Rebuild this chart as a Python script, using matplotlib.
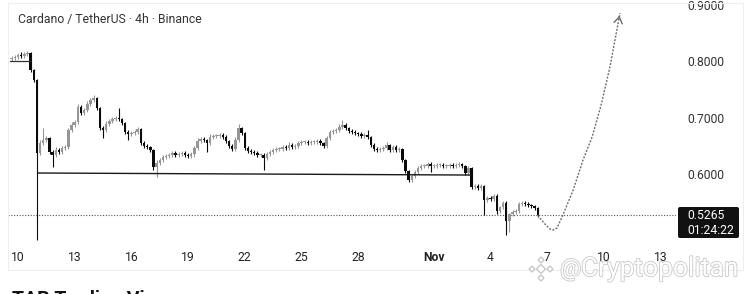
import matplotlib
matplotlib.use('Agg')
import matplotlib.pyplot as plt
import matplotlib.dates as mdates
import matplotlib.patheffects as pe
from matplotlib.patches import FancyBboxPatch, Rectangle, Polygon
import numpy as np
import pandas as pd

plt.rcParams['font.family'] = ['Roboto', 'DejaVu Sans']

# ---------------- data ----------------
title = "Cardano / TetherUS · 4h · Binance"
first_candle = "2025-10-09 16:00"
open_first = 0.8043
closes = [
    0.8061, 0.8078, 0.8114, 0.8096, 0.8132, 0.8150, 0.7848, 0.7670, 0.6373, 0.6551,
    0.6604, 0.6640, 0.6391, 0.6337, 0.6426, 0.6391, 0.6462, 0.6480, 0.6782, 0.6871,
    0.6924, 0.7190, 0.7084, 0.7137, 0.7244, 0.7315, 0.7350, 0.7173, 0.6817, 0.6782,
    0.6888, 0.6942, 0.6977, 0.6995, 0.6977, 0.6906, 0.6746, 0.6711, 0.6729, 0.6746,
    0.6800, 0.6551, 0.6497, 0.6480, 0.6426, 0.6125, 0.6196, 0.6249, 0.6302, 0.6320,
    0.6337, 0.6373, 0.6337, 0.6355, 0.6373, 0.6337, 0.6320, 0.6355, 0.6462, 0.6586,
    0.6622, 0.6604, 0.6551, 0.6657, 0.6675, 0.6675, 0.6693, 0.6657, 0.6586, 0.6497,
    0.6444, 0.6604, 0.6817, 0.6729, 0.6462, 0.6409, 0.6391, 0.6373, 0.6337, 0.6337,
    0.6284, 0.6355, 0.6391, 0.6426, 0.6444, 0.6444, 0.6480, 0.6462, 0.6515, 0.6480,
    0.6497, 0.6551, 0.6569, 0.6569, 0.6551, 0.6569, 0.6569, 0.6586, 0.6551, 0.6497,
    0.6640, 0.6746, 0.6764, 0.6782, 0.6835, 0.6871, 0.6817, 0.6764, 0.6746, 0.6729,
    0.6711, 0.6675, 0.6693, 0.6657, 0.6515, 0.6444, 0.6426, 0.6444, 0.6462, 0.6515,
    0.6426, 0.6480, 0.6426, 0.6444, 0.6249, 0.6054, 0.5894, 0.5965, 0.6036, 0.6107,
    0.6142, 0.6142, 0.6178, 0.6142, 0.6142, 0.6160, 0.6160, 0.6142, 0.6142, 0.6160,
    0.6142, 0.6160, 0.6178, 0.6142, 0.6018, 0.6107, 0.5769, 0.5787, 0.5751, 0.5787,
    0.5539, 0.5574, 0.5556, 0.5610, 0.5343, 0.5414, 0.5485, 0.5166, 0.5290, 0.5326,
    0.5343, 0.5468, 0.5485, 0.5468, 0.5450, 0.5432, 0.5396, 0.5265,
]
wick_up_milli = [
    3, 4, 3, 5, 3, 4, 2, 2, 2, 6,
    21, 4, 2, 3, 5, 3, 4, 3, 4, 6,
    4, 5, 3, 4, 5, 4, 5, 2, 2, 4,
    5, 4, 3, 4, 18, 2, 2, 3, 4, 3,
    3, 2, 3, 4, 2, 2, 5, 4, 3, 3,
    4, 3, 3, 4, 3, 3, 4, 3, 4, 5,
    4, 3, 2, 5, 4, 3, 4, 3, 3, 2,
    3, 5, 7, 2, 2, 3, 4, 3, 3, 4,
    3, 4, 3, 3, 4, 3, 4, 3, 5, 4,
    3, 4, 3, 3, 4, 3, 3, 4, 3, 2,
    4, 3, 4, 3, 5, 9, 3, 2, 3, 3,
    2, 4, 3, 9, 2, 3, 4, 3, 3, 5,
    2, 4, 3, 4, 2, 2, 2, 3, 4, 3,
    3, 4, 3, 3, 4, 3, 3, 4, 3, 4,
    3, 4, 3, 2, 2, 4, 2, 3, 4, 3,
    2, 3, 4, 3, 4, 2, 3, 4, 2, 3,
    4, 3, 4, 3, 3, 2, 2, 2,
]
wick_dn_milli = [
    3, 3, 4, 3, 3, 3, 3, 3, 155, 4,
    4, 3, 3, 21, 4, 3, 4, 3, 3, 4,
    3, 3, 4, 3, 3, 3, 3, 3, 3, 14,
    3, 4, 3, 3, 3, 3, 4, 11, 3, 4,
    3, 4, 3, 4, 3, 5, 18, 4, 3, 4,
    3, 4, 3, 3, 4, 3, 3, 4, 5, 3,
    4, 3, 16, 3, 4, 3, 3, 4, 3, 3,
    4, 3, 3, 3, 3, 4, 3, 4, 3, 4,
    21, 3, 4, 3, 4, 3, 4, 3, 3, 4,
    3, 4, 3, 3, 3, 4, 3, 4, 3, 4,
    3, 3, 4, 3, 3, 3, 4, 3, 3, 4,
    3, 3, 3, 4, 3, 3, 4, 3, 3, 3,
    4, 3, 3, 3, 4, 3, 4, 3, 3, 3,
    3, 3, 3, 11, 3, 3, 4, 3, 3, 3,
    4, 3, 3, 3, 3, 4, 4, 3, 3, 4,
    27, 3, 4, 3, 5, 4, 3, 25, 20, 4,
    3, 3, 4, 3, 3, 3, 3, 3,
]
tick_dates = ["2025-10-10", "2025-10-13", "2025-10-16", "2025-10-19", "2025-10-22",
              "2025-10-25", "2025-10-28", "2025-11-01", "2025-11-04", "2025-11-07",
              "2025-11-10", "2025-11-13"]
tick_labels = ["10", "13", "16", "19", "22", "25", "28", "Nov", "4", "7", "10", "13"]
price_ticks = [0.6, 0.7, 0.8, 0.9]
last_price = 0.5265
countdown = "01:24:22"
support_dates = ["2025-10-11 01:30", "2025-11-02 22:00"]
support_prices = [0.6018, 0.5982]
range_dates = ["2025-10-09 14:00", "2025-10-10 15:00"]
range_prices = [0.8007, 0.8007]
proj_dates = ["2025-11-06 12:00", "2025-11-06 21:00", "2025-11-07 03:30", "2025-11-07 07:30",
              "2025-11-07 12:30", "2025-11-07 20:00", "2025-11-08 09:00", "2025-11-08 21:30",
              "2025-11-09 09:00", "2025-11-09 20:30", "2025-11-10 07:40", "2025-11-10 20:30"]
proj_prices = [0.5265, 0.5113, 0.5024, 0.5006, 0.5041, 0.5272, 0.5716, 0.6249,
               0.6657, 0.7226, 0.7901, 0.8860]

# ---------------- figure ----------------
W, H = 752, 294
fig = plt.figure(figsize=(W / 100, H / 100), dpi=100)
fig.patch.set_facecolor('white')

ax_l, ax_r, ax_t, ax_b = 8, 676, 3, 245
ax = fig.add_axes([ax_l / W, 1 - ax_b / H, (ax_r - ax_l) / W, (ax_b - ax_t) / H])
ax.set_facecolor('none')

ref = mdates.date2num(pd.Timestamp("2025-10-10"))
px_per_day = 18.9
ax.set_xlim(ref + (ax_l - 18) / px_per_day, ref + (ax_r - 18) / px_per_day)
ax.set_ylim(0.9091 - 0.0017762 * ax_b, 0.9091 - 0.0017762 * ax_t)

times = pd.date_range(first_candle, periods=len(closes), freq='4h')
x = mdates.date2num(times)
c = np.array(closes)
o = np.r_[open_first, c[:-1]]
up = c >= o
hi = np.maximum(o, c) + np.array(wick_up_milli) / 1000
lo = np.minimum(o, c) - np.array(wick_dn_milli) / 1000
cols = np.where(up, '#969696', '#0a0a0a')

ax.vlines(x, lo, hi, colors=cols, lw=0.8, zorder=3)
body = np.maximum(np.abs(c - o), 0.0018)
ax.bar(x, body, bottom=np.minimum(o, c), width=0.13, color=cols, linewidth=0, zorder=4)

# drawings
ax.plot(mdates.date2num(pd.to_datetime(support_dates)), support_prices,
        color='#1a1a1a', lw=1.0, zorder=5)
ax.plot(mdates.date2num(pd.to_datetime(range_dates)), range_prices,
        color='#333333', lw=0.9, zorder=5)
ax.axhline(last_price, color='#555555', lw=0.8, ls=(0, (1, 1.5)), zorder=2)

px_ = mdates.date2num(pd.to_datetime(proj_dates))
ax.plot(px_, proj_prices, color='#6a6a6a', lw=1.0, ls=(0, (1.4, 1.1)), zorder=5)
tail_x = px_[-1] - 0.12 * (px_[-1] - px_[-2])
tail_y = proj_prices[-1] - 0.12 * (proj_prices[-1] - proj_prices[-2])
ax.annotate('', xy=(px_[-1], proj_prices[-1]), xytext=(tail_x, tail_y),
            arrowprops=dict(arrowstyle='->,head_length=0.45,head_width=0.3',
                            color='#6a6a6a', lw=1.0), zorder=6)

for s in ax.spines.values():
    s.set_visible(False)

ax.set_xticks(mdates.date2num(pd.to_datetime(tick_dates)))
ax.set_xticklabels(tick_labels)
for lbl in ax.get_xticklabels():
    if lbl.get_text() == 'Nov':
        lbl.set_fontweight('bold')
ax.tick_params(axis='x', length=0, pad=4.0, labelsize=8.7, labelcolor='#222222')

ax.yaxis.tick_right()
ax.set_yticks(price_ticks)
ax.set_yticklabels([f"{v:.4f}" for v in price_ticks])
ax.tick_params(axis='y', length=0, pad=8, labelsize=8.7, labelcolor='#333333')

# ---------------- overlay (pixel coords) ----------------
ov = fig.add_axes([0, 0, 1, 1], zorder=10)
ov.set_xlim(0, W)
ov.set_ylim(H, 0)
ov.axis('off')
ov.patch.set_alpha(0)

ov.add_patch(Rectangle((8, 3), 735, 267, fill=False, ec='#eeeeee', lw=0.8))

ov.text(18, 19, title, fontsize=8.8, color='#333333', va='center', ha='left')

ov.add_patch(FancyBboxPatch((678, 207), 61, 31, boxstyle='round,pad=0,rounding_size=2',
                            fc='#111111', ec='none'))
ov.text(687, 215.5, f"{last_price:.4f}", fontsize=8.7, color='white', va='center', ha='left')
ov.text(687, 230, countdown, fontsize=8.7, color='white', va='center', ha='left')

# watermark
wm_fx = [pe.Stroke(linewidth=1.1, foreground='#c4c4c4'), pe.Normal()]
cx, cy = 541, 269
def diamond(xc, yc, r):
    return Polygon([(xc, yc - r), (xc + r, yc), (xc, yc + r), (xc - r, yc)],
                   closed=True, fc='white', ec='#c8c8c8', lw=1.0)
ov.add_patch(diamond(cx, cy, 4.5))
for dx, dy in [(-9, 0), (9, 0), (0, -9), (0, 9)]:
    ov.add_patch(diamond(cx + dx, cy + dy, 3))
ov.text(560, 269, "@", fontsize=17, color='white', va='center', ha='left',
        path_effects=wm_fx)
ov.text(581, 269, "Cryptopolitan", fontsize=19, color='white', va='center', ha='left',
        path_effects=wm_fx)

# clipped heading at bottom
ov.text(12, 289.5, "TAB Trading View", fontsize=14, fontweight='bold', color='#111111',
        va='top', ha='left')

fig.savefig('out.png', dpi=100, facecolor='white')
